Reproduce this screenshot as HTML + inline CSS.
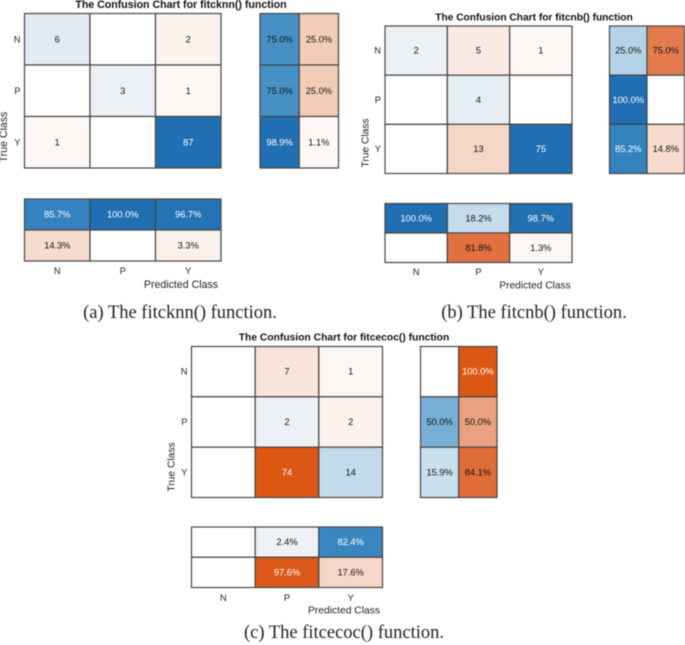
<!DOCTYPE html>
<html>
<head>
<meta charset="utf-8">
<title>Confusion Charts</title>
<style>
html,body{margin:0;padding:0;background:#fff;width:685px;height:645px;overflow:hidden}
svg{display:block;font-family:"Liberation Sans",sans-serif;filter:blur(0.45px)}
.cap{font-family:"Liberation Serif",serif;font-size:18.5px;fill:#222}
</style>
</head>
<body>
<svg id="chart" width="685" height="645" viewBox="0 0 685 645" xmlns="http://www.w3.org/2000/svg"></svg>
<script>
const classes = ['N', 'P', 'Y'];

const titleKnn = 'The Confusion Chart for fitcknn() function';
const countsKnn = [[6, 0, 2], [0, 3, 1], [1, 0, 87]];
const rowPctKnn = [[75.0, 25.0], [75.0, 25.0], [98.9, 1.1]];
const colPctKnn = [[85.7, 100.0, 96.7], [14.3, 0, 3.3]];
const captionKnn = '(a) The fitcknn() function.';

const titleNb = 'The Confusion Chart for fitcnb() function';
const countsNb = [[2, 5, 1], [0, 4, 0], [0, 13, 75]];
const rowPctNb = [[25.0, 75.0], [100.0, 0], [85.2, 14.8]];
const colPctNb = [[100.0, 18.2, 98.7], [0, 81.8, 1.3]];
const captionNb = '(b) The fitcnb() function.';

const titleEcoc = 'The Confusion Chart for fitcecoc() function';
const countsEcoc = [[0, 7, 1], [0, 2, 2], [0, 74, 14]];
const rowPctEcoc = [[0, 100.0], [50.0, 50.0], [15.9, 84.1]];
const colPctEcoc = [[0, 2.4, 82.4], [0, 97.6, 17.6]];
const captionEcoc = '(c) The fitcecoc() function.';

const svg = document.getElementById('chart');
const NS = 'http://www.w3.org/2000/svg';
const RAMP_POS = [0, 0.06, 0.14, 0.35, 0.6, 0.81, 1];
const RAMP_BLUE = [[255, 255, 255], [238, 242, 246], [225, 235, 242], [182, 212, 232], [118, 174, 214], [68, 144, 198], [31, 111, 178]];
const RAMP_RED = [[255, 255, 255], [251, 243, 238], [249, 232, 224], [243, 205, 185], [235, 160, 128], [227, 122, 78], [220, 86, 20]];

function mix(ramp, alpha) {
  let i = 0;
  while (i < RAMP_POS.length - 2 && alpha > RAMP_POS[i + 1]) i++;
  const f = (alpha - RAMP_POS[i]) / (RAMP_POS[i + 1] - RAMP_POS[i]);
  return 'rgb(' + ramp[i].map(function (c, k) { return Math.round(c + (ramp[i + 1][k] - c) * f); }).join(',') + ')';
}
function shade(ratio) {
  return Math.pow(ratio, 0.75);
}
function band(start, end, n) {
  const step = (end - start) / n;
  return function (i) { return start + i * step; };
}
function addText(parent, str, x, y, size, fill, anchor, weight) {
  const t = document.createElementNS(NS, 'text');
  t.setAttribute('x', x);
  t.setAttribute('y', y);
  t.setAttribute('font-size', size);
  t.setAttribute('fill', fill);
  t.setAttribute('text-anchor', anchor || 'middle');
  t.setAttribute('dominant-baseline', 'central');
  if (weight) t.setAttribute('font-weight', weight);
  t.textContent = str;
  parent.appendChild(t);
  return t;
}
function drawGrid(parent, name, rows, box, label, isCorrect, maxValue) {
  const nRows = rows.length;
  const nCols = rows[0].length;
  const sx = band(box.x0, box.x1, nCols);
  const sy = band(box.y0, box.y1, nRows);
  const w = (box.x1 - box.x0) / nCols;
  const h = (box.y1 - box.y0) / nRows;
  rows.forEach(function (row, r) {
    row.forEach(function (v, c) {
      const good = isCorrect(r, c);
      const alpha = v > 0 ? shade(v / maxValue) : 0;
      const rect = document.createElementNS(NS, 'rect');
      
      
      rect.setAttribute('x', sx(c));
      rect.setAttribute('y', sy(r));
      rect.setAttribute('width', w);
      rect.setAttribute('height', h);
      rect.setAttribute('fill', mix(good ? RAMP_BLUE : RAMP_RED, alpha));
      rect.setAttribute('stroke', '#454545');
      rect.setAttribute('stroke-width', '1.2');
      parent.appendChild(rect);
      if (v > 0) {
        const white = good ? alpha > 0.84 : alpha > 0.9;
        const t = addText(parent, label(v), sx(c) + w / 2, sy(r) + h / 2, 9.3, white ? '#fff' : '#141414');
        
        
      }
    });
  });
}
function drawPanel(p) {
  const g = document.createElementNS(NS, 'g');
  
  
  svg.appendChild(g);

  const title = addText(g, p.title, p.titleX, p.titleY, p.labelSize, '#111', 'middle', 'bold');
  
  

  const maxCount = Math.max.apply(null, p.counts.map(function (r) { return Math.max.apply(null, r); }));
  drawGrid(g, p.id + '-matrix', p.counts, p.main,
    function (v) { return String(v); },
    function (r, c) { return r === c; }, maxCount);
  drawGrid(g, p.id + '-row-summary', p.rowPct, p.right,
    function (v) { return v.toFixed(1) + '%'; },
    function (r, c) { return c === 0; }, 100);
  drawGrid(g, p.id + '-column-summary', p.colPct, p.bottom,
    function (v) { return v.toFixed(1) + '%'; },
    function (r, c) { return r === 0; }, 100);

  const sy = band(p.main.y0, p.main.y1, classes.length);
  const sx = band(p.main.x0, p.main.x1, classes.length);
  const rowH = (p.main.y1 - p.main.y0) / classes.length;
  const colW = (p.main.x1 - p.main.x0) / classes.length;
  classes.forEach(function (cls, i) {
    const yt = addText(g, cls, p.main.x0 - 4, sy(i) + rowH / 2, 9.3, '#222', 'end');
    
    
    const xt = addText(g, cls, sx(i) + colW / 2, p.xTickY, 9.3, '#222');
    
    
  });

  const yTitle = addText(g, 'True Class', p.yTitleX, p.yTitleY, p.labelSize, '#222');
  yTitle.setAttribute('transform', 'rotate(-90 ' + p.yTitleX + ' ' + p.yTitleY + ')');
  
  

  const xTitle = addText(g, 'Predicted Class', p.xTitleX, p.xTitleY, p.labelSize, '#222');
  
  

  const cap = addText(g, p.caption, p.capX, p.capY, 18.5, '#222');
  cap.setAttribute('class', 'cap');
  
  
}

drawPanel({
  id: 'fitcknn', title: titleKnn, counts: countsKnn, rowPct: rowPctKnn, colPct: colPctKnn, caption: captionKnn,
  labelSize: 10.6, titleX: 181, titleY: 5,
  main: { x0: 24.5, x1: 221, y0: 13.5, y1: 168 },
  right: { x0: 260, x1: 338.5, y0: 13.5, y1: 168 },
  bottom: { x0: 24.5, x1: 221, y0: 199, y1: 261 },
  xTickY: 271, yTitleX: 4, yTitleY: 137, xTitleX: 181, xTitleY: 285, capX: 180, capY: 313
});
drawPanel({
  id: 'fitcnb', title: titleNb, counts: countsNb, rowPct: rowPctNb, colPct: colPctNb, caption: captionNb,
  labelSize: 10.2, titleX: 534, titleY: 18,
  main: { x0: 385, x1: 572, y0: 26, y1: 173.5 },
  right: { x0: 609.5, x1: 684.5, y0: 26, y1: 173.5 },
  bottom: { x0: 385, x1: 572, y0: 203.5, y1: 262.5 },
  xTickY: 272, yTitleX: 366, yTitleY: 143, xTitleX: 535, xTitleY: 286, capX: 534, capY: 313
});
drawPanel({
  id: 'fitcecoc', title: titleEcoc, counts: countsEcoc, rowPct: rowPctEcoc, colPct: colPctEcoc, caption: captionEcoc,
  labelSize: 10.3, titleX: 344, titleY: 338,
  main: { x0: 191.5, x1: 382.5, y0: 346.5, y1: 497.5 },
  right: { x0: 420.5, x1: 497, y0: 346.5, y1: 497.5 },
  bottom: { x0: 191.5, x1: 382.5, y0: 527, y1: 587.5 },
  xTickY: 598, yTitleX: 172, yTitleY: 467, xTitleX: 344, xTitleY: 611, capX: 344, capY: 633
});
</script>
</body>
</html>
